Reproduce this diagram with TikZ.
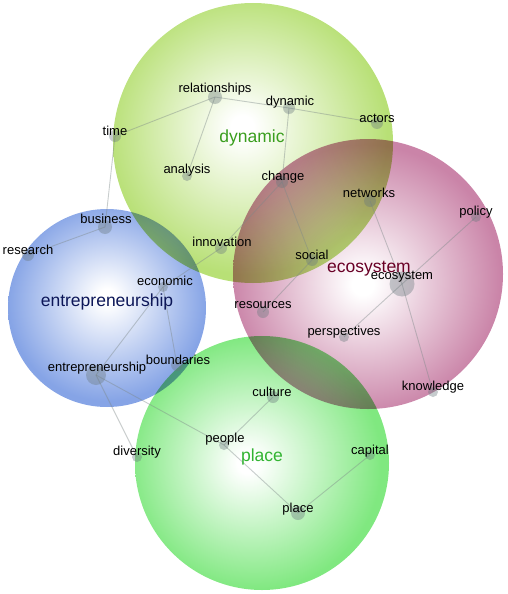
\documentclass[tikz,border=0pt]{standalone}
\usepackage{fontspec}
\setmainfont{Liberation Sans}
\usetikzlibrary{backgrounds}
\definecolor{dyncol}{RGB}{184,224,118}
\definecolor{ecocol}{RGB}{202,132,168}
\definecolor{entcol}{RGB}{134,164,230}
\definecolor{placol}{RGB}{128,232,128}
\definecolor{dyntxt}{RGB}{58,158,30}
\definecolor{ecotxt}{RGB}{105,0,38}
\definecolor{enttxt}{RGB}{12,22,88}
\definecolor{platxt}{RGB}{50,180,50}
\definecolor{dotcol}{RGB}{105,120,125}
\definecolor{edgecol}{RGB}{125,136,136}
\pgfdeclareradialshading{dynball}{\pgfpoint{-2bp}{3bp}}{color(0bp)=(white); color(2bp)=(white); color(25bp)=(dyncol); color(50bp)=(dyncol)}
\pgfdeclareradialshading{ecoball}{\pgfpoint{-1bp}{-2bp}}{color(0bp)=(white); color(2bp)=(white); color(25bp)=(ecocol); color(50bp)=(ecocol)}
\pgfdeclareradialshading{entball}{\pgfpoint{0bp}{3bp}}{color(0bp)=(white); color(2bp)=(white); color(25bp)=(entcol); color(50bp)=(entcol)}
\pgfdeclareradialshading{plaball}{\pgfpoint{-3bp}{0bp}}{color(0bp)=(white); color(2bp)=(white); color(25bp)=(placol); color(50bp)=(placol)}
\pgfdeclarelayer{circ}
\pgfdeclarelayer{edges}
\pgfsetlayers{circ,edges,main}
\tikzset{
  dot/.style={circle,fill=dotcol,fill opacity=0.38,draw=none,inner sep=0pt,minimum size=#1},
  dot/.default=11pt,
  lbl/.style={inner sep=0pt,font=\fontsize{13}{13}\selectfont,text=black},
  biglbl/.style={inner sep=0pt,font=\fontsize{17.5}{17.5}\selectfont},
  link/.style={draw=edgecol,draw opacity=0.42,line width=0.9pt}
}
\begin{document}
\begin{tikzpicture}[x=1pt,y=-1pt]
\useasboundingbox (0,0) rectangle (508,594);
% community circles
\begin{pgfonlayer}{circ}
\begin{scope}[blend group=multiply]
\shade[shading=dynball] (253,143) circle (140);
\shade[shading=ecoball] (368,274) circle (135);
\shade[shading=entball] (107,308) circle (99);
\shade[shading=plaball] (262,463) circle (127);
\end{scope}
\end{pgfonlayer}
% dots
\node[dot=14pt] (relationships) at (215,97) {};
\node[dot=12pt] (time) at (115,136) {};
\node[dot=10pt] (analysis) at (187,176) {};
\node[dot=12pt] (dynamic) at (289,108) {};
\node[dot=12pt] (actors) at (377,123) {};
\node[dot=12pt] (change) at (282,182) {};
\node[dot=12pt] (networks) at (370,201) {};
\node[dot=10pt] (policy) at (476,217) {};
\node[dot=12pt] (social) at (312,260) {};
\node[dot=25pt] (ecosystem) at (402,284) {};
\node[dot=12pt] (resources) at (263,312) {};
\node[dot=10pt] (perspectives) at (344,337) {};
\node[dot=10pt] (knowledge) at (433,392) {};
\node[dot=14pt] (business) at (105,227) {};
\node[dot=12pt] (research) at (28,255) {};
\node[dot=12pt] (innovation) at (221,248) {};
\node[dot=10pt] (economic) at (163,287) {};
\node[dot=20pt] (entrepreneurship) at (96,375) {};
\node[dot=12pt] (boundaries) at (177,365) {};
\node[dot=10pt] (diversity) at (137,457) {};
\node[dot=10pt] (people) at (224,445) {};
\node[dot=12pt] (culture) at (273,397) {};
\node[dot=10pt] (capital) at (370,455) {};
\node[dot=14pt] (place) at (298,513) {};
% connectors
\begin{pgfonlayer}{edges}
\draw[link] (time.center) -- (relationships.center);
\draw[link] (relationships.center) -- (analysis.center);
\draw[link] (relationships.center) -- (dynamic.center);
\draw[link] (dynamic.center) -- (actors.center);
\draw[link] (dynamic.center) -- (change.center);
\draw[link] (time.center) -- (business.center);
\draw[link] (business.center) -- (research.center);
\draw[link] (change.center) -- (innovation.center);
\draw[link] (innovation.center) -- (economic.center);
\draw[link] (change.center) -- (social.center);
\draw[link] (social.center) -- (resources.center);
\draw[link] (networks.center) -- (ecosystem.center);
\draw[link] (ecosystem.center) -- (policy.center);
\draw[link] (ecosystem.center) -- (perspectives.center);
\draw[link] (ecosystem.center) -- (knowledge.center);
\draw[link] (economic.center) -- (entrepreneurship.center);
\draw[link] (economic.center) -- (boundaries.center);
\draw[link] (entrepreneurship.center) -- (people.center);
\draw[link] (entrepreneurship.center) -- (diversity.center);
\draw[link] (people.center) -- (culture.center);
\draw[link] (people.center) -- (place.center);
\draw[link] (place.center) -- (capital.center);
\end{pgfonlayer}
% cluster labels
\node[biglbl,text=dyntxt] (Ldynamic) at (252,138) {dynamic};
\node[biglbl,text=ecotxt] (Lecosystem) at (369,269) {ecosystem};
\node[biglbl,text=enttxt] (Lentrepreneurship) at (107,302) {entrepreneurship};
\node[biglbl,text=platxt] (Lplace) at (262,457) {place};
% term labels
\node[lbl] (t-relationships) at (215,89) {relationships};
\node[lbl] (t-time) at (115,131) {time};
\node[lbl] (t-analysis) at (187,170) {analysis};
\node[lbl] (t-dynamic) at (290,102) {dynamic};
\node[lbl] (t-actors) at (377,118) {actors};
\node[lbl] (t-change) at (283,177) {change};
\node[lbl] (t-networks) at (369,193) {networks};
\node[lbl] (t-policy) at (476,212) {policy};
\node[lbl] (t-social) at (312,255) {social};
\node[lbl] (t-ecosystem) at (402,277) {ecosystem};
\node[lbl] (t-resources) at (263,305) {resources};
\node[lbl] (t-perspectives) at (344,332) {perspectives};
\node[lbl] (t-knowledge) at (433,387) {knowledge};
\node[lbl] (t-business) at (106,219) {business};
\node[lbl] (t-research) at (28,250) {research};
\node[lbl] (t-innovation) at (222,242) {innovation};
\node[lbl] (t-economic) at (165,281) {economic};
\node[lbl] (t-entrepreneurship) at (97,368) {entrepreneurship};
\node[lbl] (t-boundaries) at (178,360) {boundaries};
\node[lbl] (t-diversity) at (137,452) {diversity};
\node[lbl] (t-people) at (225,439) {people};
\node[lbl] (t-culture) at (272,392) {culture};
\node[lbl] (t-capital) at (370,451) {capital};
\node[lbl] (t-place) at (298,509) {place};
\end{tikzpicture}
\end{document}
